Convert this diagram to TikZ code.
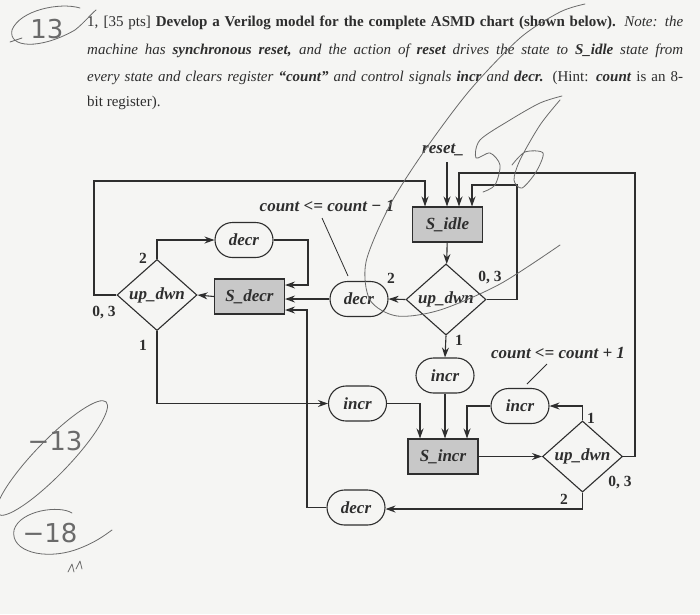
\documentclass[tikz,border=0pt]{standalone}
\usepackage{fontspec}
\setmainfont{Liberation Serif}
\newfontfamily\handfont{DejaVu Sans}
\usetikzlibrary{shapes.geometric,shapes.misc,arrows.meta}
\definecolor{ink}{HTML}{2E2E2E}
\definecolor{boxfill}{HTML}{C8C8C8}
\definecolor{paper}{HTML}{F5F5F3}
\definecolor{pencil}{HTML}{6A6A6A}
\tikzset{
  lbl/.style={font=\fontsize{17}{19}\selectfont\bfseries\itshape, text=ink},
  statebox/.style={rectangle, draw=ink, fill=boxfill, line width=1.1pt, minimum width=70pt, minimum height=35pt, inner sep=0pt, lbl},
  term/.style={rounded rectangle, draw=ink, line width=1.1pt, minimum width=58pt, minimum height=35pt, inner sep=0pt, lbl},
  decision/.style={diamond, draw=ink, line width=1.1pt, minimum width=80pt, minimum height=66pt, inner sep=0pt, lbl},
  flow/.style={draw=ink, line width=1.1pt, -{Stealth[length=10pt,width=7pt]}},
  plain/.style={draw=ink, line width=1.1pt},
  num/.style={font=\fontsize{15.5}{17}\selectfont\bfseries, text=ink},
  para/.style={anchor=base west, inner sep=0pt, font=\fontsize{15}{17}\selectfont, text=ink},
  hand/.style={draw=pencil, line width=0.8pt, line cap=round, line join=round},
  handtext/.style={text=pencil, font=\handfont\fontsize{26}{28}\selectfont, inner sep=0pt}
}
\begin{document}
\begin{tikzpicture}[x=1pt,y=-1pt]
\fill[paper] (0,0) rectangle (700,614);
\useasboundingbox (0,0) rectangle (700,614);

% ---- question text ----
\node[para] (t1) at (87,26) {\makebox[596pt][s]{1, [35 pts] \textbf{Develop a Verilog model for the complete ASMD chart (shown below).} \textit{Note: the}}};
\node[para] (t2) at (87,54) {\makebox[596pt][s]{\itshape machine has \textbf{synchronous reset,} and the action of \textbf{reset} drives the state to \textbf{S\_idle} state from}};
\node[para] (t3) at (87,81) {\makebox[596pt][s]{\textit{every state and clears register \textbf{“count”} and control signals \textbf{incr} and \textbf{decr.}} (Hint: \textbf{\textit{count}} is an 8-}};
\node[para] (t4) at (87,106) {bit register).};

% ---- nodes ----
\node[statebox] (idle) at (447.5,224.5) {S\_idle};
\node[decision] (d2) at (446,299.5) {up\_dwn};
\node[term] (decrM) at (359,299) {decr};
\node[statebox] (sdecr) at (249.5,296.5) {S\_decr};
\node[decision] (d1) at (157,295) {up\_dwn};
\node[term] (decrT) at (244,240) {decr};
\node[term] (incrC) at (445,375.5) {incr};
\node[term] (incrL) at (357.5,403.5) {incr};
\node[statebox] (sincr) at (443,456.5) {S\_incr};
\node[term] (incrR) at (520,406) {incr};
\node[decision] (d3) at (582.5,456.5) {up\_dwn};
\node[term] (decrB) at (356,507.5) {decr};

\node[lbl] (rst) at (443,150) {reset\_};
\node[lbl] (cm) at (327,206) {count <= count − 1};
\node[lbl] (cp) at (558,353) {count <= count + 1};

% ---- branch labels ----
\node[num] (l1) at (143,258) {2};
\node[num] (l2) at (104,313) {0, 3};
\node[num] (l3) at (143,345) {1};
\node[num] (l4) at (391,278) {2};
\node[num] (l5) at (490,278) {0, 3};
\node[num] (l6) at (459,340) {1};
\node[num] (l7) at (591,418) {1};
\node[num] (l8) at (620,483) {0, 3};
\node[num] (l9) at (564,499) {2};

% ---- helper coordinates ----
\coordinate (rsttail) at (447,162);
\coordinate (a1) at (94,295);
\coordinate (a2) at (94,181);
\coordinate (a3) at (425,181);
\coordinate (b1) at (635,456.5);
\coordinate (b2) at (635,173);
\coordinate (b3) at (459,173);
\coordinate (c1) at (517,299.5);
\coordinate (c2) at (517,185);
\coordinate (c3) at (472,185);
\coordinate (e1) at (308,240);
\coordinate (e2) at (308,285);
\coordinate (f1) at (307,507.5);
\coordinate (f2) at (307,310);
\coordinate (g1) at (157,403.5);
\coordinate (h1) at (420,403.5);
\coordinate (k1) at (467,406);
\coordinate (m1) at (582.5,406);
\coordinate (n1) at (582.5,509);
\coordinate (p1) at (157,240);
\coordinate (cmA) at (322,218);
\coordinate (cmB) at (348,276);
\coordinate (cpA) at (547,364);
\coordinate (cpB) at (527,384);

% ---- connectors ----
\draw[flow] (rsttail) -- (idle.north -| rsttail);
\draw[flow] (idle) -- (d2);
\draw[flow] (d2.west) -- (decrM.east);
\draw[flow] (decrM.west) -- (sdecr.east |- decrM.west);
\draw[flow] (sdecr.west) -- (d1.east);
\draw[flow] (d1.north) -- (p1) -- (decrT.west);
\draw[flow] (decrT.east) -- (e1) -- (e2) -- (sdecr.east |- e2);
\draw[flow] (d1.west) -- (a1) -- (a2) -- (a3) -- (idle.north -| a3);
\draw[flow] (d1.south) -- (g1) -- (incrL.west);
\draw[flow] (incrL.east) -- (h1) -- (sincr.north -| h1);
\draw[flow] (d2.south) -- (incrC.north);
\draw[flow] (incrC.south) -- (sincr.north -| incrC.south);
\draw[flow] (incrR.west) -- (k1) -- (sincr.north -| k1);
\draw[flow] (sincr.east) -- (d3.west);
\draw[flow] (d3.north) -- (m1) -- (incrR.east);
\draw[flow] (d3.east) -- (b1) -- (b2) -- (b3) -- (idle.north -| b3);
\draw[flow] (d3.south) -- (n1) -- (decrB.east |- n1);
\draw[flow] (decrB.west) -- (f1) -- (f2) -- (sdecr.east |- f2);
\draw[flow] (d2.east) -- (c1) -- (c2) -- (c3) -- (idle.north -| c3);
\draw[plain, line width=0.8pt] (cmA) -- (cmB);
\draw[plain, line width=0.8pt] (cpA) -- (cpB);

% ---- handwritten grading marks ----
\node[handtext] (h13) at (47,29) {13};
\draw[hand] (80,8) .. controls (60,2) and (20,10) .. (12,30) .. controls (8,48) and (40,50) .. (75,30) .. controls (85,22) and (90,15) .. (96,10);
\draw[hand] (10,42) -- (22,38);
\node[handtext] (hm13) at (55,441) {−13};
\draw[hand, rotate around={46:(52,458)}] (52,458) ellipse [x radius=78pt, y radius=17pt];
\node[handtext] (hm18) at (50,533) {−18};
\draw[hand] (72,513) .. controls (60,505) and (20,510) .. (14,530) .. controls (10,552) and (45,560) .. (75,550) .. controls (95,543) and (105,535) .. (112,530);
\draw[hand] plot[smooth] coordinates {(585,4) (560,12) (520,38) (470,90) (425,150) (390,205) (366,262) (370,300) (397,316) (440,310) (500,284) (560,245)};
\draw[hand] plot[smooth] coordinates {(562,96) (540,103) (510,120) (480,140) (476,158) (490,153) (500,165) (495,185) (483,192)};
\draw[hand] plot[smooth] coordinates {(560,100) (540,125) (520,160) (514,180) (522,188) (536,172) (543,153) (525,152) (512,165)};
\draw[hand] (68,572) -- (72,564) -- (74,572);
\draw[hand] (76,569) -- (80,561) -- (82,569);
\end{tikzpicture}
\end{document}
